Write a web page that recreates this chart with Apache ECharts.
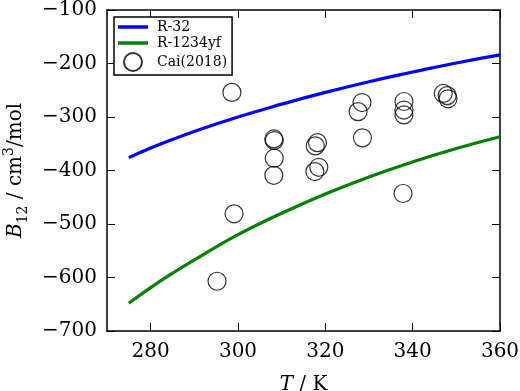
<!DOCTYPE html>
<html>
<head>
<meta charset="utf-8">
<script src="https://cdn.jsdelivr.net/npm/echarts@6/dist/echarts.min.js"></script>
<style>html,body{margin:0;padding:0;background:#fff}#c{width:520px;height:391px}</style>
</head>
<body>
<div id="c"></div>
<script>
// curve temperatures (K)
var curveT = [275, 280, 285, 290, 300, 310, 320, 330, 340, 350, 360];
// R-32 curve B12 (cm3/mol)
var r32 = [-376, -358, -342, -327, -300, -276, -254, -234, -216, -199, -184];
// R-1234yf curve B12 (cm3/mol)
var r1234yf = [-648, -619, -592, -567, -520, -480, -444, -412, -384, -359, -337];
// Cai (2018) experimental points
var caiT = [295.2, 298.6, 299.1, 308.2, 308.3, 308.3, 308.2, 318.2, 317.7, 318.5, 317.6, 328.4, 327.5, 328.5, 338.0, 338.0, 338.0, 337.8, 347.0, 347.9, 348.1];
var caiB = [-607, -254, -481, -341, -344, -377, -409, -348, -354, -394, -402, -273, -290, -339, -271, -287, -296, -443, -256, -260, -266];
// tick labels
var xTicks = [280, 300, 320, 340, 360];
var yTicks = [-700, -600, -500, -400, -300, -200, -100];

var seriesNames = ['R-32', 'R-1234yf', 'Cai(2018)'];
var seriesColors = ['#0000ff', '#008000'];

function pairs(xs, ys) { return xs.map(function (x, i) { return [x, ys[i]]; }); }
function fmtMinus(v) { return String(v).replace('-', '\u2212'); }

var FONT = 'DejaVu Serif';
var chart = echarts.init(document.getElementById('c'), null, { renderer: 'canvas' });

var axisCommon = {
  axisLine: { show: true, onZero: false, lineStyle: { color: '#000', width: 1.5 } },
  axisTick: { show: true, inside: true, length: 8, lineStyle: { color: '#000', width: 1 } },
  splitLine: { show: false }
};
var lineIcon = 'path://M0,0L30,0L30,3.5L0,3.5Z';

chart.setOption({
  animation: false,
  backgroundColor: '#fff',
  grid: { left: 107, right: 20, top: 10, bottom: 60, containLabel: false, outerBoundsMode: 'none' },
  legend: {
    orient: 'vertical', left: 114, top: 17,
    data: [
      { name: seriesNames[0], icon: lineIcon, itemStyle: { color: seriesColors[0], borderWidth: 0 } },
      { name: seriesNames[1], icon: lineIcon, itemStyle: { color: seriesColors[1], borderWidth: 0 } },
      { name: seriesNames[2], icon: 'circle' }
    ],
    symbolKeepAspect: true,
    itemWidth: 30, itemHeight: 18, itemGap: 2,
    padding: [3, 5, 3, 4],
    borderColor: '#000', borderWidth: 1.5, backgroundColor: '#fff',
    textStyle: { fontFamily: FONT, fontSize: 14, color: '#000', padding: [0, 0, 0, 4] }
  },
  xAxis: [
    Object.assign({}, axisCommon, {
      type: 'value', min: 270, max: 360, position: 'bottom',
      axisTick: Object.assign({}, axisCommon.axisTick, { customValues: xTicks }),
      axisLabel: { customValues: xTicks, fontFamily: FONT, fontSize: 20, color: '#000', margin: 11 },
      name: '{i|T}{n| / K}', nameLocation: 'middle', nameGap: 44,
      nameTextStyle: { rich: {
        i: { fontFamily: FONT, fontStyle: 'italic', fontSize: 20, color: '#000' },
        n: { fontFamily: FONT, fontSize: 20, color: '#000' } } }
    }),
    Object.assign({}, axisCommon, {
      type: 'value', min: 270, max: 360, position: 'top',
      axisTick: Object.assign({}, axisCommon.axisTick, { customValues: xTicks }),
      axisLabel: { show: false }
    })
  ],
  yAxis: [
    Object.assign({}, axisCommon, {
      type: 'value', min: yTicks[0], max: yTicks[yTicks.length - 1], interval: 100, position: 'left',
      axisLabel: { fontFamily: FONT, fontSize: 20, color: '#000', margin: 10, formatter: fmtMinus },
      name: '{i|B}{sub|12}{n| / cm}{sup|3}{n|/mol}', nameLocation: 'middle', nameGap: 81, nameRotate: 90,
      nameTextStyle: { rich: {
        i: { fontFamily: FONT, fontStyle: 'italic', fontSize: 20, color: '#000', lineHeight: 24, verticalAlign: 'bottom' },
        n: { fontFamily: FONT, fontSize: 20, color: '#000', lineHeight: 24, verticalAlign: 'bottom' },
        sub: { fontFamily: FONT, fontSize: 14, color: '#000', lineHeight: 24, verticalAlign: 'bottom', padding: [0, 0, -4, 0] },
        sup: { fontFamily: FONT, fontSize: 14, color: '#000', lineHeight: 24, verticalAlign: 'top' } } }
    }),
    Object.assign({}, axisCommon, {
      type: 'value', min: yTicks[0], max: yTicks[yTicks.length - 1], interval: 100, position: 'right',
      axisLabel: { show: false }
    })
  ],
  series: [
    { name: seriesNames[0], type: 'line', data: pairs(curveT, r32), smooth: true, symbol: 'none',
      lineStyle: { color: seriesColors[0], width: 3.2 }, itemStyle: { color: seriesColors[0] }, z: 2 },
    { name: seriesNames[1], type: 'line', data: pairs(curveT, r1234yf), smooth: true, symbol: 'none',
      lineStyle: { color: seriesColors[1], width: 3.2 }, itemStyle: { color: seriesColors[1] }, z: 2 },
    { name: seriesNames[2], type: 'scatter', data: pairs(caiT, caiB), symbol: 'circle', symbolSize: 18,
      itemStyle: { color: 'rgba(0,0,0,0)', borderColor: '#000', borderWidth: 1.2 }, z: 3 }
  ]
});
</script>
</body>
</html>
